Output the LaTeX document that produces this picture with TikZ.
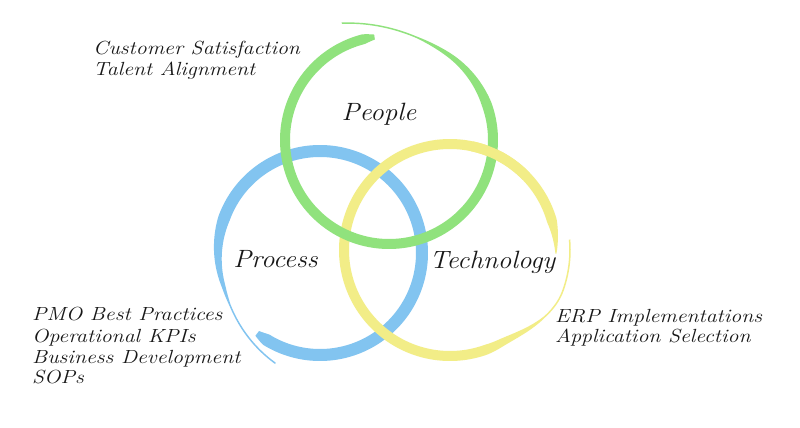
\documentclass[tikz,border=0pt]{standalone}
\usepackage{fontspec}
\definecolor{gcol}{RGB}{144,226,125}
\definecolor{bcol}{RGB}{130,196,240}
\definecolor{ycol}{RGB}{242,237,135}
\definecolor{ink}{RGB}{24,24,24}
\tikzset{
  declare function={
    gA(\t)=max(0,1-(\t+112)/55);
    gO(\t)=22*gA(\t)*gA(\t);
    gW(\t)=(1.5+8.5*min(1,max(0,(\t+75)/55)))*min(1,0.5+(262-\t)/12);
    bA(\t)=max(0,1-(\t-112)/50);
    bO(\t)=17*bA(\t)*sqrt(bA(\t));
    bW(\t)=(1.5+10.5*min(1,max(0,(\t-150)/50)))*min(1,0.5+(488-\t)/12);
    yS(\t)=min(1,max(0,(62-\t)/42));
    yO(\t)=14*yS(\t)*yS(\t)*(3-2*yS(\t));
    yW(\t)=(1.5+8.5*min(1,max(0,(\t-35)/35)))*min(1,0.1+(362-\t)/20);
  },
  lab/.style={font=\itshape\fontsize{19}{21}\selectfont, text=ink, anchor=base west, inner sep=0pt, xscale=1.15},
  big/.style={font=\itshape\fontsize{25}{28}\selectfont, text=ink, anchor=base, inner sep=0pt, xscale=1.08}
}
% #1 colour, #2 cx, #3 cy, #4 radius, #5 offset function, #6 width function, #7 from, #8 to
\newcommand\bandstroke[8]{%
  \fill[#1] plot[domain=#7:#8,samples=240,variable=\t]
    ({#2+(#4+#5(\t)+#6(\t)/2)*cos(\t)},{#3+(#4+#5(\t)+#6(\t)/2)*sin(\t)})
    -- plot[domain=#8:#7,samples=240,variable=\t]
    ({#2+(#4+#5(\t)-#6(\t)/2)*cos(\t)},{#3+(#4+#5(\t)-#6(\t)/2)*sin(\t)}) -- cycle;}
\begin{document}
\begin{tikzpicture}[x=1pt,y=-1pt]
  \useasboundingbox[fill=white] (0,0) rectangle (800,428);
  % circles (brush strokes)
  \bandstroke{bcol}{320}{253}{102}{bO}{bW}{112}{488}
  \bandstroke{ycol}{450}{250}{106}{yO}{yW}{-5}{362}
  \bandstroke{gcol}{389}{140}{104}{gO}{gW}{-112}{262}
  \bandstroke{ycol}{450}{250}{106}{yO}{yW}{282}{316}
  % circle labels
  \node[big] (people) at (379,120) {People};
  \node[big] (process) at (275.5,267) {Process};
  \node[big] (tech) at (492.5,268) {Technology};
  % side lists
  \node[lab] (c1) at (93,55) {Customer Satisfaction};
  \node[lab] (c2) at (93,75) {Talent Alignment};
  \node[lab] (p1) at (32,320) {PMO Best Practices};
  \node[lab] (p2) at (32,342) {Operational KPIs};
  \node[lab] (p3) at (32,363) {Business Development};
  \node[lab] (p4) at (32,383) {SOPs};
  \node[lab] (e1) at (555,322) {ERP Implementations};
  \node[lab] (e2) at (555,342) {Application Selection};
\end{tikzpicture}
\end{document}
